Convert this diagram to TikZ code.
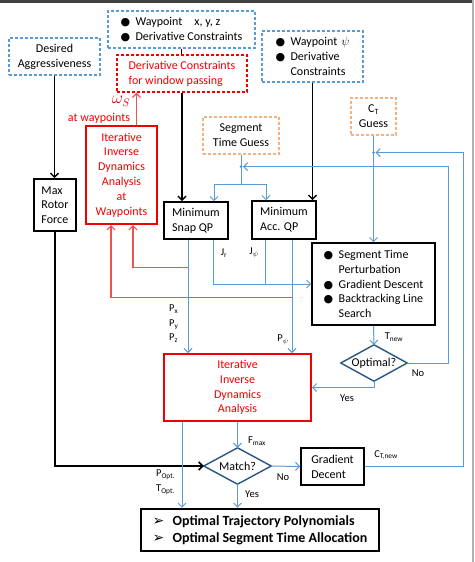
\documentclass[tikz,border=0pt]{standalone}
\usepackage{fontspec}
\setmainfont{Carlito}
\newfontfamily\dejavu{DejaVu Sans}
\usetikzlibrary{arrows.meta,calc}
\definecolor{lblue}{RGB}{91,155,213}
\definecolor{orng}{RGB}{244,177,131}
\definecolor{rd}{RGB}{240,0,0}
\definecolor{rdl}{RGB}{240,80,80}
\definecolor{dblue}{RGB}{40,85,130}
\newcommand\bul{\makebox[15pt][l]{\dejavu\fontsize{11}{11}\selectfont ●}}
\newcommand\nobul{\hspace*{15pt}}
\newcommand\arh{\makebox[20pt][l]{\dejavu\fontsize{14}{14}\selectfont ➢}}
\begin{document}
\begin{tikzpicture}[x=1pt,y=-1pt,font=\fontsize{12}{14.8}\selectfont]
\tikzset{
 blkbox/.style={draw=black, line width=1.6pt, inner sep=0pt, align=left},
 bdash/.style={draw=lblue, line width=1.2pt, dash pattern=on 3pt off 2pt, inner sep=0pt, align=center},
 odash/.style={draw=orng, line width=1.2pt, dash pattern=on 3pt off 2pt, inner sep=0pt, align=center},
 rdash/.style={draw=rd, line width=1.2pt, dash pattern=on 3pt off 2pt, inner sep=0pt, align=left, text=rd},
 rsolid/.style={draw=rd, line width=2pt, inner sep=0pt, align=center, text=rd},
 dmd/.style={inner sep=0pt},
 dmdline/.style={draw=dblue, line width=1.4pt},
 bl/.style={draw=lblue, line width=1pt},
 tip/.style={-{Straight Barb[length=4pt,width=8pt]}},
 blk/.style={draw=black, line width=1.5pt},
 rl/.style={draw=rdl, line width=1.2pt},
 lbl/.style={inner sep=0pt, font=\fontsize{10.5}{14.5}\selectfont, align=left}
}
\useasboundingbox (0,0) rectangle (474,562);
\fill[white] (0,0) rectangle (474,562);
\fill[black!75] (0,0) rectangle (474,2.5);
\fill[black!30] (471.5,0) rectangle (474,562);

% nodes
\node[bdash, minimum width=91pt, minimum height=37pt] (aggr) at (54.5,56.5) {Desired\\Aggressiveness};
\node[bdash, minimum width=147pt, minimum height=37pt, align=left] (wpxyz) at (181.5,29.5) {\bul Waypoint\hspace{12pt}x, y, z\\\bul Derivative Constraints};
\node[rdash, minimum width=130pt, minimum height=37pt] (dcwin) at (182,73.5) {Derivative Constraints\\for window passing};
\node[bdash, minimum width=101pt, minimum height=51pt, align=left] (wppsi) at (312.5,56.5) {\bul Waypoint\hspace{4pt}$\psi$\\\bul Derivative\\\nobul Constraints};
\node[odash, minimum width=45pt, minimum height=37pt] (ctg) at (373.5,116.5) {C\textsubscript{T}\\Guess};
\node[odash, minimum width=76pt, minimum height=37pt] (stg) at (241,135.5) {Segment\\Time Guess};
\node[rsolid, minimum width=71pt, minimum height=98pt] (idaw) at (121.5,175) {Iterative\\Inverse\\Dynamics\\Analysis\\at\\Waypoints};
\node[blkbox, minimum width=42pt, minimum height=52pt] (mrf) at (55,205) {Max\\Rotor\\Force};
\node[blkbox, minimum width=64pt, minimum height=37pt] (msqp) at (196,220.5) {Minimum\\Snap QP};
\node[blkbox, minimum width=64pt, minimum height=38pt] (maqp) at (284,220) {Minimum\\Acc. QP};
\node[blkbox, minimum width=123pt, minimum height=82pt] (stp) at (373.5,284) {\bul Segment Time\\\nobul Perturbation\\\bul Gradient Descent\\\bul Backtracking Line\\\nobul Search};
\node[dmd, minimum width=66pt, minimum height=36pt] (opt) at (374,363) {Optimal?};
\draw[dmdline] (opt.north) -- (opt.east) -- (opt.south) -- (opt.west) -- cycle;
\node[rsolid, minimum width=147pt, minimum height=67pt] (ida) at (237.5,387.5) {Iterative\\Inverse\\Dynamics\\Analysis};
\node[dmd, minimum width=67pt, minimum height=36pt] (match) at (237.5,466) {Match?};
\draw[dmdline] (match.north) -- (match.east) -- (match.south) -- (match.west) -- cycle;
\node[blkbox, minimum width=63pt, minimum height=37pt] (gd) at (332.5,466.5) {Gradient\\Decent};
\node[draw=black, line width=2.6pt, inner sep=0pt, minimum width=238pt, minimum height=42pt, align=left, font=\fontsize{14}{16.6}\selectfont\bfseries] (fin) at (260,530) {\arh Optimal Trajectory Polynomials\\\arh Optimal Segment Time Allocation};

% black connectors
\draw[blk,tip] (aggr.south) -- (aggr.south |- mrf.north);
\draw[blk,tip] (mrf.south) |- (match.west);
\draw[blk] (wpxyz.south) -- (wpxyz.south |- dcwin.north);
\draw[blk,tip] (dcwin.south) -- (dcwin.south |- msqp.north);
\draw[blk,tip] (wppsi.south) -- (wppsi.south |- maqp.north);

% red connectors
\draw[rl,tip] ([xshift=15pt]idaw.north) -- ([xshift=15pt]idaw.north |- dcwin.south);
\node[text=rd, inner sep=0pt, font=\fontsize{16}{16}\selectfont] (omega) at (121,101) {$\omega_S$};
\node[text=rd, inner sep=0pt] (atwp) at (99,118) {at waypoints};
\coordinate (r1) at ($(msqp.south)+(-8,28)$);
\coordinate (r2) at ($(maqp.south)+(8,58)$);
\draw[rl,tip] (r1) -| ([xshift=11.5pt]idaw.south);
\draw[rl,tip] (r2) -| ([xshift=-10.5pt]idaw.south);

% blue connectors
\coordinate (j1) at ($(stg.south)+(0,12)$);
\coordinate (sp) at ($(stg.south)+(0,30)$);
\draw[bl] (stg.south) -- (sp);
\draw[bl,tip] (sp) -| ([xshift=18pt]msqp.north);
\draw[bl,tip] (sp) -| ([xshift=-18pt]maqp.north);
\coordinate (c1) at (448,363);
\draw[bl,tip] (opt.east) -- (c1) |- ([xshift=2pt]j1);
\fill[lblue] (j1) circle (1.6pt);
\coordinate (j2) at ($(ctg.south)+(0,17)$);
\draw[bl,tip] (ctg.south) -- (stp.north);
\fill[lblue] (j2) circle (1.6pt);
\coordinate (c2) at (463,466.5);
\draw[bl,tip] (gd.east) -- (c2) |- ([xshift=2pt]j2);
\draw[bl,tip] (match.east) -- (gd.west);
\draw[bl,tip] (match.south) -- (match.south |- fin.north);
\draw[bl,tip] (ida.south) -- (match.north);
\draw[bl,tip] ([xshift=-55.5pt]ida.south) -- ([xshift=-55.5pt]ida.south |- fin.north);
\draw[bl,tip] ([xshift=-8pt]msqp.south) -- ([xshift=-8pt]msqp.south |- ida.north);
\draw[bl,tip] ([xshift=17pt]msqp.south) |- (stp.west);
\draw[bl] ([xshift=-19pt]maqp.south) -- ([xshift=-19pt]maqp.south |- stp.west);
\draw[bl,tip] ([xshift=8pt]maqp.south) -- ([xshift=8pt]maqp.south |- ida.north);
\draw[bl,tip] (stp.south) -- (opt.north);
\draw[bl,tip] (opt.south) |- (ida.east);

% labels
\node[lbl] (ljr) at (224,253) {J\textsubscript{r}};
\node[lbl] (ljpsi) at (254,253) {J\textsubscript{$\psi$}};
\node[lbl, anchor=north west] (lpxyz) at (169,305) {P\textsubscript{x}\\P\textsubscript{y}\\P\textsubscript{z}};
\node[lbl] (lppsi) at (283,340) {P\textsubscript{$\psi$}};
\node[lbl] (ltnew) at (394,337) {T\textsubscript{new}};
\node[lbl] (lno1) at (418,373) {No};
\node[lbl] (lyes1) at (347,398) {Yes};
\node[lbl] (lfmax) at (257,441) {F\textsubscript{max}};
\node[lbl] (lctnew) at (386,455) {C\textsubscript{T,new}};
\node[lbl] (lno2) at (283,477) {No};
\node[lbl] (lyes2) at (252,494) {Yes};
\node[lbl, anchor=north west] (lpopt) at (156,470) {P\textsubscript{Opt.}\\T\textsubscript{Opt.}};
\end{tikzpicture}
\end{document}
